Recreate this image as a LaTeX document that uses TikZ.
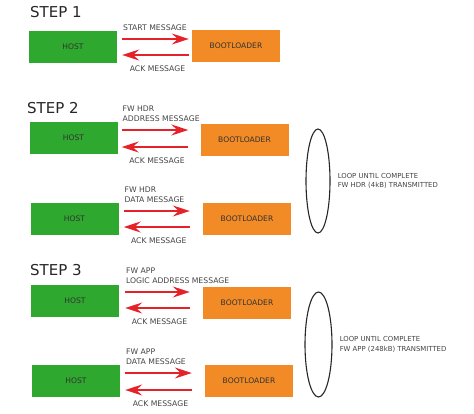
\documentclass[tikz,border=0pt]{standalone}
\usepackage{fontspec}
\setmainfont{DejaVu Sans}
\usetikzlibrary{arrows.meta}
\usetikzlibrary{positioning}
\usetikzlibrary{shapes.geometric}
\definecolor{hostgreen}{HTML}{2EA82E}
\definecolor{bootorange}{HTML}{F28A26}
\definecolor{msgred}{HTML}{E52129}
\definecolor{labelgray}{HTML}{444444}
\tikzset{
    hostbox/.style={fill=hostgreen, minimum width=88pt, minimum height=32pt,
        inner sep=0pt, text=black!80, font=\fontsize{7.6}{8}\selectfont},
    bootbox/.style={fill=bootorange, minimum width=88pt, minimum height=32pt,
        inner sep=0pt, text=black!80, font=\fontsize{7.6}{8}\selectfont},
    msg/.style={draw=msgred, line width=1.9pt,
        -{Stealth[length=17pt,width=11pt,inset=6pt]}},
    msgtop/.style={pos=0, anchor=south west, inner sep=0pt, yshift=7pt,
        align=left, text=labelgray, font=\fontsize{7.7}{10}\selectfont},
    msgack/.style={midway, anchor=north, inner sep=0pt, yshift=-10pt, xshift=2pt,
        text=labelgray, font=\fontsize{7.7}{10}\selectfont},
    steplabel/.style={anchor=west, inner sep=0pt, text=black!85,
        font=\fontsize{15}{16}\selectfont},
    loopring/.style={draw=black!85, line width=1.1pt, ellipse, inner sep=0pt},
    looptext/.style={anchor=west, inner sep=0pt, align=left, text=labelgray,
        font=\fontsize{6.9}{9.5}\selectfont},
}

\begin{document}
\begin{tikzpicture}[x=1pt, y=-1pt]
\useasboundingbox (0,0) rectangle (474,413);
% step 1
\node[steplabel] (s1) at (30,12.5) {STEP 1};
\node[hostbox] (h1) at (73,47) {HOST};
\node[bootbox] (b1) at (236,46) {BOOTLOADER};
\draw[msg] ([xshift=5pt,yshift=8pt]h1.east) -- ([xshift=-3pt,yshift=7pt]b1.west)
    node[msgtop] {START MESSAGE};
\draw[msg] ([xshift=-3pt,yshift=-9pt]b1.west) -- ([xshift=5pt,yshift=-8pt]h1.east)
    node[msgack] {ACK MESSAGE};
% step 2
\node[steplabel] (s2) at (27,108.5) {STEP 2};
\node[hostbox] (h2) at (73.5,137.5) {HOST};
\node[bootbox] (b2) at (244.5,140) {BOOTLOADER};
\draw[msg] ([xshift=4pt,yshift=7.5pt]h2.east) -- ([xshift=-12pt,yshift=10pt]b2.west)
    node[msgtop] {FW HDR\\ADDRESS MESSAGE};
\draw[msg] ([xshift=-12pt,yshift=-7pt]b2.west) -- ([xshift=4pt,yshift=-9.5pt]h2.east)
    node[msgack] {ACK MESSAGE};
\node[hostbox] (h3) at (74.5,218.5) {HOST};
\node[bootbox] (b3) at (247,218.5) {BOOTLOADER};
\draw[msg] ([xshift=5pt,yshift=7.5pt]h3.east) -- ([xshift=-13pt,yshift=7.5pt]b3.west)
    node[msgtop] {FW HDR\\DATA MESSAGE};
\draw[msg] ([xshift=-13pt,yshift=-8.5pt]b3.west) -- ([xshift=5pt,yshift=-8.5pt]h3.east)
    node[msgack] {ACK MESSAGE};
\node[loopring, minimum width=24pt, minimum height=104pt] (l1) at (318,181) {};
\node[looptext, right=7pt of l1] (t1) {LOOP UNTIL COMPLETE\\FW HDR (4kB) TRANSMITTED};
% step 3
\node[steplabel] (s3) at (30,270.5) {STEP 3};
\node[hostbox] (h4) at (75,300.5) {HOST};
\node[bootbox] (b4) at (247,302.5) {BOOTLOADER};
\draw[msg] ([xshift=6pt,yshift=8.5pt]h4.east) -- ([xshift=-13pt,yshift=10.5pt]b4.west)
    node[msgtop] {FW APP\\LOGIC ADDRESS MESSAGE};
\draw[msg] ([xshift=-13pt,yshift=-5.5pt]b4.west) -- ([xshift=6pt,yshift=-7.5pt]h4.east)
    node[msgack] {ACK MESSAGE};
\node[hostbox] (h5) at (76,381) {HOST};
\node[bootbox] (b5) at (249,381) {BOOTLOADER};
\draw[msg] ([xshift=5pt,yshift=8pt]h5.east) -- ([xshift=-13pt,yshift=8pt]b5.west)
    node[msgtop] {FW APP\\DATA MESSAGE};
\draw[msg] ([xshift=-13pt,yshift=-9pt]b5.west) -- ([xshift=5pt,yshift=-9pt]h5.east)
    node[msgack] {ACK MESSAGE};
\node[loopring, minimum width=27pt, minimum height=105pt] (l2) at (318.5,344.5) {};
\node[looptext, right=7pt of l2] (t2) {LOOP UNTIL COMPLETE\\FW APP (248kB) TRANSMITTED};
\end{tikzpicture}
\end{document}
